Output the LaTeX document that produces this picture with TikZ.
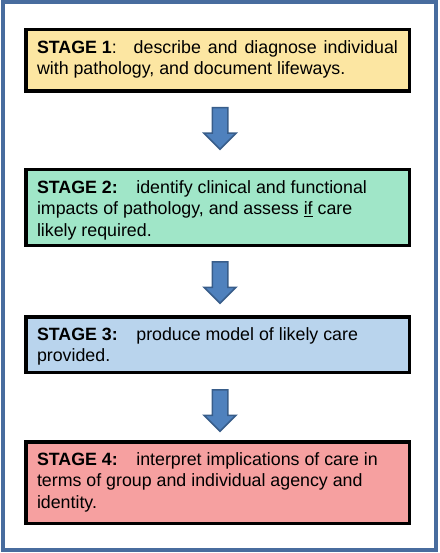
\documentclass[tikz,border=0pt]{standalone}
\usepackage{fontspec}
\setmainfont{Liberation Sans}
\usetikzlibrary{calc}
\definecolor{frameblue}{RGB}{72,108,158}
\definecolor{arrowfill}{RGB}{79,129,189}
\definecolor{arrowline}{RGB}{56,93,138}
\definecolor{stageone}{RGB}{252,230,162}
\definecolor{stagetwo}{RGB}{160,230,200}
\definecolor{stagethree}{RGB}{185,212,237}
\definecolor{stagefour}{RGB}{246,160,160}
\tikzset{
  stage/.style={draw=black, line width=3.5pt, inner sep=0pt, minimum width=383.5pt},
  blockarrow/.style={draw=arrowline, fill=arrowfill, line width=1.5pt, line join=miter}
}
% text of a stage, top aligned in a box of height #1
\newcommand{\stagetext}[2]{\parbox[c][#1][t]{361pt}{\fontsize{17.8}{21.8}\selectfont #2}}
% block arrow between two stages, #3 shifts it down
\newcommand{\stagearrow}[3]{%
  \draw[blockarrow] ($(#1.south)!0.5!(#2.north)+(-5.25,#3-21.25)$) -- ++(15.5,0) -- ++(0,25.5)
    -- ++(8.25,0) -- ++(-16,16) -- ++(-16,-16) -- ++(8.25,0) -- cycle;}
\begin{document}
\begin{tikzpicture}[x=1pt, y=-1pt]
\useasboundingbox (0,0) rectangle (439,553);
\draw[frameblue, line width=4pt] (2.5,2.5) rectangle (436,549.5);

\node[stage, fill=stageone, minimum height=61.5pt] (s1) at (217.5,60.5)
  {\stagetext{40.5pt}{\mbox{\textbf{STAGE 1}:}\hspace{10pt} describe and diagnose individual\linebreak
  with pathology, and document lifeways.}};
\node[stage, fill=stagetwo, minimum height=75.5pt] (s2) at (217.5,207.5)
  {\stagetext{54.5pt}{\raggedright\textbf{STAGE 2:}\hspace{12pt} identify clinical and functional\\
  impacts of pathology, and assess \underline{if} care\\ likely required.}};
\node[stage, fill=stagethree, minimum height=55.5pt] (s3) at (217.5,344.5)
  {\stagetext{34.5pt}{\raggedright\textbf{STAGE 3:}\hspace{12pt} produce model of likely care\\ provided.}};
\node[stage, fill=stagefour, minimum height=81.5pt] (s4) at (217.5,482.5)
  {\stagetext{60.5pt}{\raggedright\textbf{STAGE 4:}\hspace{12pt} interpret implications of care in\\
  terms of group and individual agency and\\ identity.}};

\stagearrow{s1}{s2}{-1.5}
\stagearrow{s2}{s3}{2}
\stagearrow{s3}{s4}{4}
\end{tikzpicture}
\end{document}
